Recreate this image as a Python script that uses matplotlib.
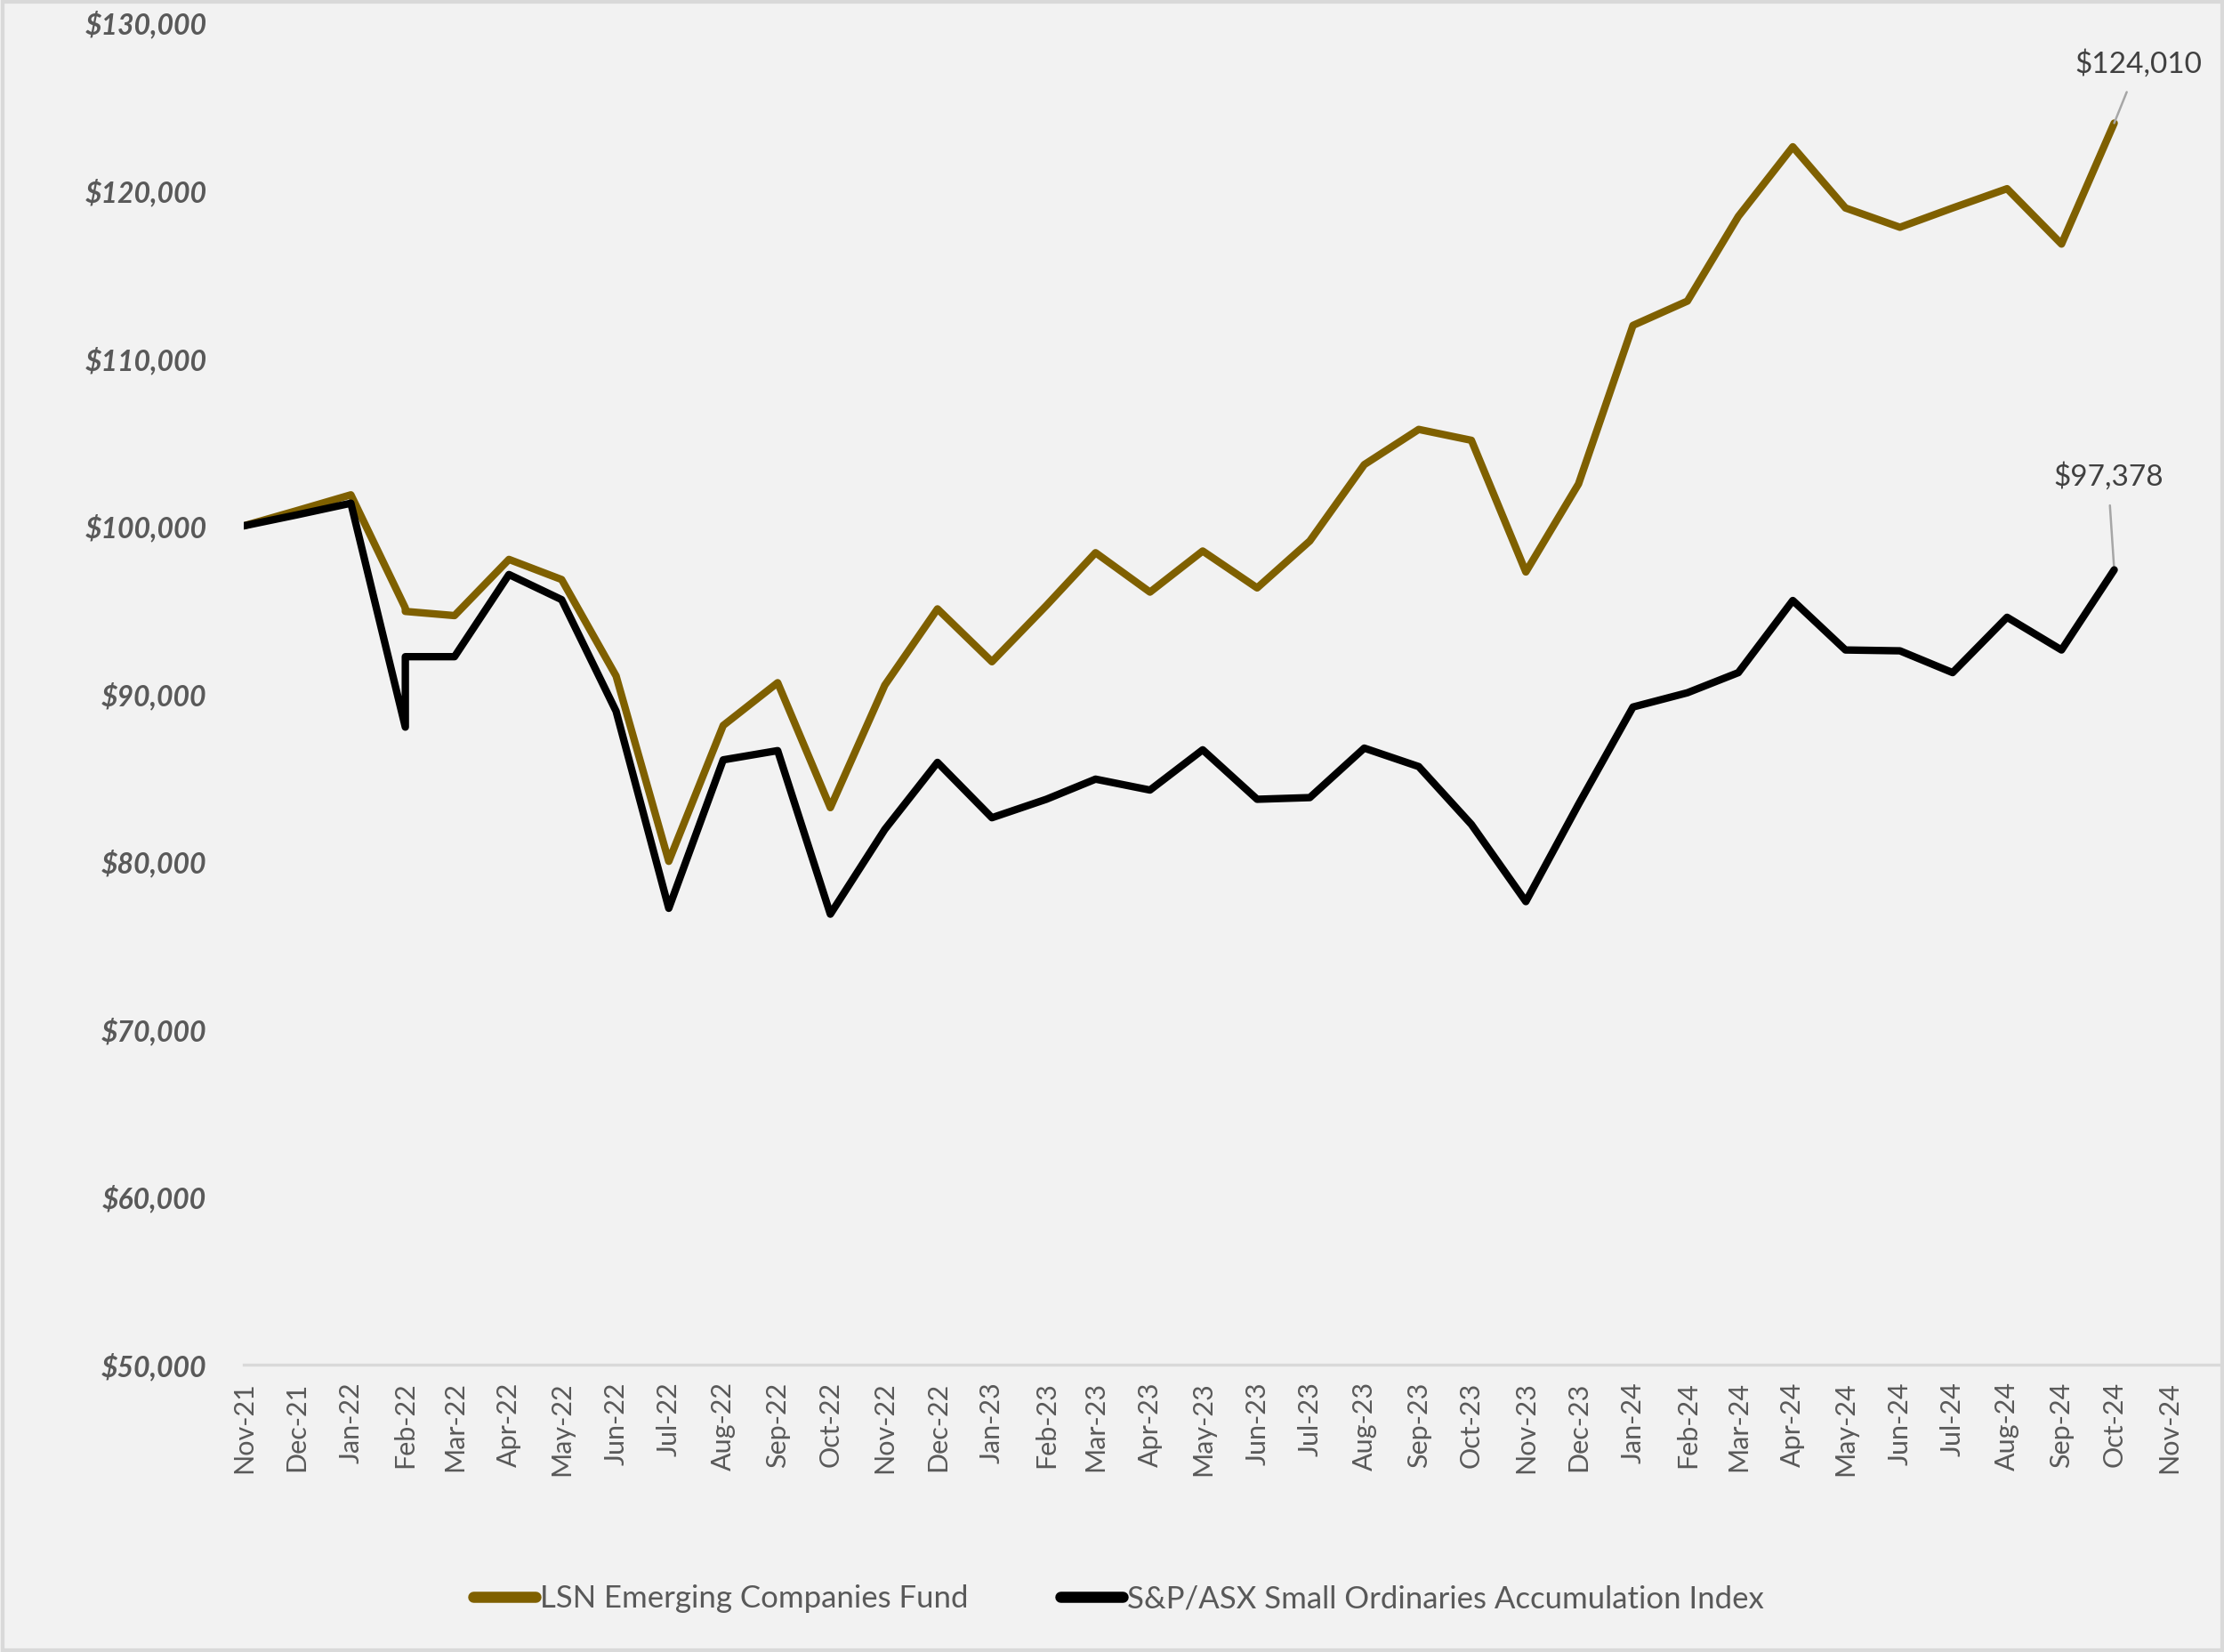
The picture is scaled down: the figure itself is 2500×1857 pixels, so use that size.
import matplotlib
matplotlib.use("Agg")
import matplotlib.pyplot as plt
import matplotlib.dates as mdates
from matplotlib.patches import Rectangle
from matplotlib.ticker import FuncFormatter
import pandas as pd

# ---------------- data ----------------
fund_label = "LSN Emerging Companies Fund"
index_label = "S&P/ASX Small Ordinaries Accumulation Index"

fund_dates = ["2021-11-01", "2021-12-01", "2022-01-01", "2022-02-01", "2022-02-01",
              "2022-03-01", "2022-04-01", "2022-05-01", "2022-06-01", "2022-07-01",
              "2022-08-01", "2022-09-01", "2022-10-01", "2022-11-01", "2022-12-01",
              "2023-01-01", "2023-02-01", "2023-03-01", "2023-04-01", "2023-05-01",
              "2023-06-01", "2023-07-01", "2023-08-01", "2023-09-01", "2023-10-01",
              "2023-11-01", "2023-12-01", "2024-01-01", "2024-02-01", "2024-03-01",
              "2024-04-01", "2024-05-01", "2024-06-01", "2024-07-01", "2024-08-01",
              "2024-09-01", "2024-10-01"]
fund_values = [100000, 100900, 101850, 95100, 94900,
               94650, 98000, 96800, 91050, 80000,
               88100, 90650, 83200, 90500, 95050,
               91900, 95250, 98400, 96050, 98500,
               96300, 99100, 103650, 105750, 105100,
               97250, 102500, 111950, 113400, 118450,
               122600, 118950, 117800, 118950, 120100,
               116800, 124010]

index_dates = fund_dates
index_values = [100000, 100650, 101350, 88000, 92200,
                92200, 97100, 95600, 88950, 77200,
                86050, 86600, 76850, 81900, 85900,
                82600, 83700, 84900, 84250, 86650,
                83700, 83800, 86750, 85650, 82200,
                77600, 83400, 89200, 90050, 91250,
                95550, 92600, 92550, 91250, 94550,
                92600, 97378]

tick_months = pd.date_range("2021-11-01", "2024-11-01", freq="MS")
y_ticks = [50000, 60000, 70000, 80000, 90000, 100000, 110000, 120000, 130000]

fund_note = "$124,010"
index_note = "$97,378"

# ---------------- style ----------------
gold = "#7F6000"
bg = "#F2F2F2"
txt_gray = "#595959"
font = "Lato"

fig = plt.figure(figsize=(12.5, 9.285), dpi=200, facecolor=bg)
ax = fig.add_axes([0.1096, 0.1740, 0.8892, 0.8123], facecolor=bg)

fd = pd.to_datetime(fund_dates)
idd = pd.to_datetime(index_dates)
ax.plot(fd, fund_values, color=gold, lw=3.0, solid_joinstyle="round",
        solid_capstyle="round", label=fund_label, zorder=3)
ax.plot(idd, index_values, color="black", lw=3.0, solid_joinstyle="round",
        solid_capstyle="round", label=index_label, zorder=4)

ax.set_xlim(pd.Timestamp("2021-11-01"), pd.Timestamp("2024-12-01"))
ax.set_ylim(50000, 130000)

ax.set_xticks(tick_months)
ax.xaxis.set_major_formatter(mdates.DateFormatter("%b-%y"))
ax.set_yticks(y_ticks)
ax.yaxis.set_major_formatter(FuncFormatter(lambda v, p: f"${v:,.0f}"))

for lab in ax.get_xticklabels():
    lab.set_rotation(90)
    lab.set_fontfamily(font)
    lab.set_fontsize(11)
    lab.set_color(txt_gray)
for lab in ax.get_yticklabels():
    lab.set_fontfamily(font)
    lab.set_fontsize(11.5)
    lab.set_fontweight("bold")
    lab.set_fontstyle("italic")
    lab.set_color(txt_gray)

ax.tick_params(axis="x", length=0, pad=7)
ax.tick_params(axis="y", length=0, pad=15)

for s in ["top", "right", "left"]:
    ax.spines[s].set_visible(False)
ax.spines["bottom"].set_color("#D9D9D9")
ax.spines["bottom"].set_linewidth(1.2)

# end-point annotations
ax.annotate(fund_note, xy=(fd[-1], fund_values[-1]),
            xytext=(pd.Timestamp("2024-10-15"), 127550),
            ha="center", va="center", fontsize=12, color="#404040", family=font,
            arrowprops=dict(arrowstyle="-", color="#A6A6A6", lw=0.9,
                            relpos=(0.45, 0.0), shrinkA=4, shrinkB=0))
ax.annotate(index_note, xy=(idd[-1], index_values[-1]),
            xytext=(pd.Timestamp("2024-09-28"), 102950),
            ha="center", va="center", fontsize=12, color="#404040", family=font,
            arrowprops=dict(arrowstyle="-", color="#A6A6A6", lw=0.9,
                            relpos=(0.5, 0.0), shrinkA=4, shrinkB=0))

leg = fig.legend(loc="center", bbox_to_anchor=(0.503, 0.0323), ncol=2,
                 frameon=False, handlelength=2.0, handletextpad=0.15,
                 columnspacing=3.0, prop={"family": font, "size": 12.5})
for t in leg.get_texts():
    t.set_color(txt_gray)
for h in leg.get_lines():
    h.set_linewidth(4.5)

fig.add_artist(Rectangle((0.001, 0.001), 0.998, 0.998, transform=fig.transFigure,
                         fill=False, edgecolor="#D9D9D9", lw=1.5))

fig.savefig("out.png", dpi=200, facecolor=bg)
